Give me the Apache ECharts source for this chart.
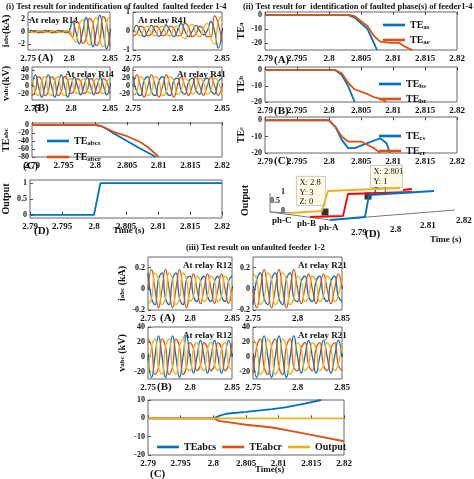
<!DOCTYPE html>
<html><head><meta charset="utf-8">
<script src="https://cdn.jsdelivr.net/npm/echarts@6/dist/echarts.min.js"></script>
<style>html,body{margin:0;padding:0;background:#fff}#c{width:474px;height:479px}</style>
</head><body><div id="c"></div>
<script>
// ---------- DATA ----------
// waveform time grid (quarter-cycle samples, 2.75..2.85)
const tW = [2.75,2.7542,2.7583,2.7625,2.7667,2.7708,2.775,2.7792,2.7833,2.7875,2.7917,2.7958,2.8,2.8042,2.8083,2.8125,2.8167,2.8208,2.825,2.8292,2.8333,2.8375,2.8417,2.8458,2.85];
// (i)A currents at R14 (kA)
const iR14a = [0,.2,0,-.2,0,.2,0,-.2,0,.2,0,-.2,0,1.6,0,-2,0,2.3,0,-2.5,0,2.7,0,-2.8,0];
const iR14b = [-.17,-.1,.17,.1,-.17,-.1,.17,.1,-.17,-.1,.17,.1,-.2,-.9,1.7,1.1,-1.9,-1.2,2.2,1.3,-2.3,-1.4,2.5,1.4,-2.5];
const iR14c = [.17,-.1,-.17,.1,.17,-.1,-.17,.1,.17,-.1,-.17,.1,.17,-.9,-1.7,1.1,1.9,-1.2,-2.2,1.3,2.3,-1.4,-2.5,1.4,2.6];
// (i)A currents at R41 (kA)
const iR41a = [0,.3,0,-.3,0,.3,0,-.3,0,.3,0,-.3,0,.4,0,-.3,0,.3,0,-.2,0,.5,0,-.9,0];
const iR41b = [-.26,-.15,.26,.15,-.26,-.15,.26,.15,-.26,-.15,.26,.15,-.26,-.2,.4,.2,-.3,-.15,.25,.1,-.3,-.3,.8,.4,-.6];
const iR41c = [.26,-.15,-.26,.15,.26,-.15,-.26,.15,.26,-.15,-.26,.15,.26,-.25,-.4,.2,.35,-.15,-.3,.15,.4,-.4,-.7,.5,.8];
// (i)B voltages (kV)
const vR14a = [0,28,0,-28,0,28,0,-28,0,28,0,-28,0,22,0,-22,0,22,0,-22,0,22,0,-22,0];
const vR14b = [-24,-14,24,14,-24,-14,24,14,-24,-14,24,14,-19,-11,19,11,-19,-11,19,11,-19,-11,19,11,-19];
const vR14c = [24,-14,-24,14,24,-14,-24,14,24,-14,-24,14,19,-11,-19,11,19,-11,-19,11,19,-11,-19,11,19];
const vR41a = [24,-14,-24,14,24,-14,-24,14,24,-14,-24,14,20,-11,-20,11,20,-11,-20,11,20,-11,-20,11,20];
const vR41b = [0,28,0,-28,0,28,0,-28,0,28,0,-28,0,23,0,-23,0,23,0,-23,0,23,0,-23,0];
const vR41c = [-24,-14,24,14,-24,-14,24,14,-24,-14,24,14,-20,-11,20,11,-20,-11,20,11,-20,-11,20,11,-20];
// (iii)A currents (kA)
const iR12a = [.15,-.09,-.15,.09,.15,-.09,-.15,.09,.15,-.09,-.15,.09,.12,-.07,-.12,.07,.12,-.07,-.12,.07,.12,-.07,-.12,.07,.12];
const iR12b = [0,.18,0,-.18,0,.18,0,-.18,0,.18,0,-.18,0,.14,0,-.14,0,.14,0,-.14,0,.14,0,-.14,0];
const iR12c = [-.15,-.09,.15,.09,-.15,-.09,.15,.09,-.15,-.09,.15,.09,-.12,-.07,.12,.07,-.12,-.07,.12,.07,-.12,-.07,.12,.07,-.12];
const iR21a = [-.15,.09,.15,-.09,-.15,.09,.15,-.09,-.15,.09,.15,-.09,-.12,.07,.12,-.07,-.12,.07,.12,-.07,-.12,.07,.12,-.07,-.12];
const iR21b = [0,-.18,0,.18,0,-.18,0,.18,0,-.18,0,.18,0,-.14,0,.14,0,-.14,0,.14,0,-.14,0,.14,0];
const iR21c = [.15,.09,-.15,-.09,.15,.09,-.15,-.09,.15,.09,-.15,-.09,.12,.07,-.12,-.07,.12,.07,-.12,-.07,.12,.07,-.12,-.07,.12];
// (iii)B voltages (kV)
const vR12a = [0,-28,0,28,0,-28,0,28,0,-28,0,28,0,-22,0,22,0,-22,0,22,0,-22,0,22,0];
const vR12b = [24,14,-24,-14,24,14,-24,-14,24,14,-24,-14,19,11,-19,-11,19,11,-19,-11,19,11,-19,-11,19];
const vR12c = [-24,14,24,-14,-24,14,24,-14,-24,14,24,-14,-19,11,19,-11,-19,11,19,-11,-19,11,19,-11,-19];
const vR21a = [0,-28,0,28,0,-28,0,28,0,-28,0,28,0,-22,0,22,0,-22,0,22,0,-22,0,22,0];
const vR21b = [-24,14,24,-14,-24,14,24,-14,-24,14,24,-14,-19,11,19,-11,-19,11,19,-11,-19,11,19,-11,-19];
const vR21c = [24,14,-24,-14,24,14,-24,-14,24,14,-24,-14,19,11,-19,-11,19,11,-19,-11,19,11,-19,-11,19];
// (i)C transient energy
const teAbcsT = [2.79,2.8,2.801,2.802,2.803,2.805,2.807,2.809,2.8095];
const teAbcsV = [0,0,-3,-12,-22,-40,-58,-75,-80];
const teAbcrT = [2.79,2.8,2.801,2.802,2.803,2.805,2.807,2.808,2.809,2.81];
const teAbcrV = [0,0,-3,-10,-18,-28,-42,-52,-65,-80];
// (i)D output
const outT = [2.79,2.8,2.801,2.82];
const outV = [0,0,1,1];
// (ii) phase energies
const teAsT=[2.79,2.803,2.804,2.806,2.807,2.8075], teAsV=[0,0,-2,-10,-20,-25];
const teArT=[2.79,2.803,2.804,2.806,2.807,2.808,2.8095,2.811,2.812,2.813], teArV=[0,0,-1,-8,-15,-19,-20,-20,-23,-25];
const teBsT=[2.79,2.801,2.802,2.803,2.804], teBsV=[0,0,-3,-10,-20];
const teBrT=[2.79,2.801,2.802,2.803,2.804,2.806,2.807,2.808,2.809], teBrV=[0,0,-2,-8,-12,-15,-17,-18,-20];
const teCsT=[2.79,2.8,2.801,2.802,2.803,2.804,2.806,2.808,2.809,2.8095], teCsV=[0,0,-4,-12,-17,-17,-14,-11,-14,-20];
const teCrT=[2.79,2.8,2.801,2.802,2.803,2.805,2.806,2.807,2.808], teCrV=[0,0,-4,-10,-13,-13,-15,-17,-20];
// (ii)D projected 3D output traces (projection units)
const phCx=[25,57,63,135], phCy=[27,29,49,52];
const phBx=[45,78,83,147], phBy=[23,24,46,48];
const phAx=[65,100,104,169], phAy=[20,23,45,49];
const phBtailx=[138,147], phBtaily=[50,51];
// (iii)C
const t3sT=[2.79,2.8,2.801,2.802,2.805,2.809,2.811,2.814,2.8165], t3sV=[0,0,1.5,2.5,3.5,5,6,8,10];
const t3rT=[2.79,2.8,2.801,2.803,2.805,2.809,2.812,2.815,2.82], t3rV=[0,0,-1.5,-2.5,-3.5,-5,-7,-9,-12.5];
const t3oT=[2.79,2.82], t3oV=[0,0];

// ---------- CHART ----------
const BLUE='#0072BD', RED='#D95319', YEL='#EDB120';
const FONT='Liberation Serif';
const zip=(x,y)=>x.map((v,i)=>[v,y[i]]);
const grids=[], xAxes=[], yAxes=[], series=[];
const fmtX=v=>String(+v.toFixed(3));
function addGrid(g, xr, yr, ylabels, yname, gap){
  const gi=grids.length;
  grids.push({left:g[0],top:g[1],width:g[2]-g[0],height:g[3]-g[1],show:true,borderColor:'#666',borderWidth:1,backgroundColor:'#fff'});
  xAxes.push({gridIndex:gi,type:'value',min:xr[0],max:xr[1],interval:xr[2],splitLine:{show:false},
    axisLine:{show:false},axisTick:{inside:true,length:3,lineStyle:{color:'#444'}},
    axisLabel:{fontFamily:FONT,fontWeight:'bold',fontSize:9,color:'#111',margin:4,formatter:fmtX,showMinLabel:true,showMaxLabel:true}});
  yAxes.push({gridIndex:gi,type:'value',min:yr[0],max:yr[1],splitLine:{show:false},axisLine:{show:false},
    axisTick:{inside:true,length:3,customValues:ylabels},
    axisLabel:{customValues:ylabels,fontFamily:FONT,fontWeight:'bold',fontSize:8,color:'#111',margin:3},
    name:yname||'',nameLocation:'middle',nameGap:gap||19,nameRotate:90,
    nameTextStyle:{fontFamily:FONT,fontWeight:'bold',fontSize:10,color:'#111',rich:{s:{fontSize:7,fontFamily:FONT,fontWeight:'bold'}}}});
  return gi;
}
function line(gi,data,color,name,w){series.push({type:'line',name:name,xAxisIndex:gi,yAxisIndex:gi,data:data,showSymbol:false,smooth:false,lineStyle:{color:color,width:w||1.5},itemStyle:{color:color},clip:true,animation:false});}
function wave(gi,a,b,c){ line(gi,zip(tW,a),BLUE,null,1.3); line(gi,zip(tW,b),RED,null,1.3); line(gi,zip(tW,c),YEL,null,1.3); series.slice(-3).forEach(s=>s.smooth=0.5);}

const wx=[2.75,2.85,0.05], cx=[2.79,2.82,0.005];
// (i)
let g;
g=addGrid([28,12,110,50],wx,[-3,3.2],[-2,0,2],'i{s|abc}(kA)',17); wave(g,iR14a,iR14b,iR14c);
g=addGrid([133,12,222,50],wx,[-1,1],[-1,0,1]); wave(g,iR41a,iR41b,iR41c);
g=addGrid([28,67,110,100],wx,[-35,48],[-20,0,20,40],'v{s|abc}(kV)',21); wave(g,vR14a,vR14b,vR14c);
g=addGrid([133,67,222,100],wx,[-35,48],[-20,0,20,40]); wave(g,vR41a,vR41b,vR41c);
g=addGrid([28,123,222,157],cx,[-80,5],[0,-20,-40,-60,-80],'TE{s|abc}',21);
line(g,zip(teAbcsT,teAbcsV),BLUE,'TEabcs',1.8); line(g,zip(teAbcrT,teAbcrV),RED,'TEabcr',1.8);
g=addGrid([28,180,222,218],cx,[-0.1,1.1],[0,0.5,1],'Output',19);
line(g,zip(outT,outV),BLUE,null,1.8);
// (ii)
g=addGrid([265,12,457,50],cx,[-25,2],[0,-10,-20],'TE{s|a}',19);
line(g,zip(teAsT,teAsV),BLUE,'TEas',1.8); line(g,zip(teArT,teArV),RED,'TEar',1.8);
g=addGrid([265,67,457,102],cx,[-20,2],[0,-10,-20],'TE{s|b}',19);
line(g,zip(teBsT,teBsV),BLUE,'TEbs',1.8); line(g,zip(teBrT,teBrV),RED,'TEbr',1.8);
g=addGrid([265,117,457,153],cx,[-20,2],[0,-10,-20],'TE{s|c}',19);
line(g,zip(teCsT,teCsV),BLUE,'TEcs',1.8); line(g,zip(teCrT,teCrV),RED,'TEcr',1.8);
// (ii)D pseudo-3D
let gi=grids.length;
grids.push({left:265,top:160,width:200,height:80});
xAxes.push({gridIndex:gi,type:'value',min:0,max:200,show:false});
yAxes.push({gridIndex:gi,type:'value',min:0,max:80,show:false});
const ax3=[[[5,47],[5,28]],[[5,28],[65,20]],[[65,20],[190,30]],[[5,28],[25,27]]];
ax3.forEach(d=>series.push({type:'line',xAxisIndex:gi,yAxisIndex:gi,data:d,showSymbol:false,lineStyle:{color:'#777',width:1},animation:false}));
line(gi,zip(phCx,phCy),YEL,null,1.8); line(gi,zip(phBx,phBy),'#FF0000',null,1.8); line(gi,zip(phAx,phAy),BLUE,null,1.8);
line(gi,zip(phBtailx,phBtaily),'#FF0000',null,1.8);
series.push({type:'scatter',xAxisIndex:gi,yAxisIndex:gi,data:[[60,28],[103,44]],symbol:'rect',symbolSize:7,itemStyle:{color:'#000'},animation:false});
// (iii)
g=addGrid([148,257,232,310],wx,[-0.2,0.3],[-0.2,0,0.2],'i{s|abc} (kA)',21); wave(g,iR12a,iR12b,iR12c);
g=addGrid([253,257,342,310],wx,[-0.2,0.3],[-0.2,0,0.2]); wave(g,iR21a,iR21b,iR21c);
g=addGrid([148,327,232,379],wx,[-30,40],[-20,0,20,40],'v{s|abc} (kV)',21); wave(g,vR12a,vR12b,vR12c);
g=addGrid([253,327,342,379],wx,[-30,40],[-20,0,20,40]); wave(g,vR21a,vR21b,vR21c);
g=addGrid([148,400,344,455],cx,[-20,10],[-20,-10,0,10]);
line(g,zip(t3sT,t3sV),BLUE,'TEabcs',1.8); line(g,zip(t3rT,t3rV),RED,'TEabcr',1.8); line(g,zip(t3oT,t3oV),YEL,'Output',1.8);

const leg=(names,fmt,pos,orient,gap)=>({data:names.map(n=>({name:n,icon:'path://M0,0H1V0.12H0Z'})),orient:orient||'horizontal',...pos,
  itemWidth:22,itemHeight:8,itemGap:gap||4,
  formatter:fmt,textStyle:{fontFamily:FONT,fontWeight:'bold',fontSize:10,color:'#111',
  rich:{s:{fontSize:7,fontFamily:FONT,fontWeight:'bold',padding:[5,0,0,0]}}}});
const sub=n=>'TE{s|'+n.slice(2)+'}';
const legends=[
  leg(['TEabcs','TEabcr'],sub,{left:42,top:131},'vertical',5),
  leg(['TEas','TEar'],sub,{left:378,top:15}),
  leg(['TEbs','TEbr'],sub,{left:374,top:74}),
  leg(['TEcs','TEcr'],sub,{left:374,top:126}),
  leg(['TEabcs','TEabcr','Output'],n=>n,{left:152,top:437},'horizontal',6)
];

const T=(x,y,text,o,rot)=>({type:'text',left:x,top:y,rotation:rot||0,style:Object.assign({text:text,fontFamily:FONT,fontWeight:'bold',fontSize:10,fill:'#111'},o||{})});
const tipBox=(x,y,w,h,lines)=>({type:'group',left:x,top:y,children:[
  {type:'rect',shape:{x:0,y:0,width:w,height:h},style:{fill:'#fffbe6',stroke:'#bbb',lineWidth:0.8}},
  {type:'text',left:3,top:2,style:{text:lines,fontFamily:FONT,fontSize:8.5,lineHeight:9.5,fill:'#111'}}]});
const graphic=[
  T(6,2,'(i) Test result for indentification of faulted  faulted feeder 1-4',{fontSize:8.5}),
  T(243,2,'(ii) Test result for  identification of faulted phase(s) of feeder1-4',{fontSize:8.5}),
  T(186,243,'(iii) Test result on unfaulted feeder 1-2',{fontSize:8.5}),
  T(29,16,'At relay R14',{fontSize:9}), T(138,16,'At relay R41',{fontSize:9}),
  T(65,70,'At relay R14',{fontSize:9}), T(177,70,'At relay R41',{fontSize:9}),
  T(183,261,'At relay R12',{fontSize:9}), T(298,261,'At relay R21',{fontSize:9}),
  T(183,331,'At relay R12',{fontSize:9}), T(298,331,'At relay R21',{fontSize:9}),
  T(38,53,'(A)',{fontSize:11}), T(34,103,'(B)',{fontSize:11}), T(23,161,'(C)',{fontSize:11}), T(34,226,'(D)',{fontSize:11}),
  T(113,226,'Time (s)',{fontSize:9}),
  T(274,55,'(A)',{fontSize:11}), T(274,106,'(B)',{fontSize:11}), T(274,156,'(C)',{fontSize:11}),
  T(365,229,'(D)',{fontSize:11}), T(430,235,'Time (s)',{fontSize:9}),
  T(160,313,'(A)',{fontSize:11}), T(157,382,'(B)',{fontSize:11}), T(150,469,'(C)',{fontSize:11}),
  T(255,465,'Time(s)',{fontSize:9}),
  T(272,216,'ph-C',{fontSize:9}), T(297,219,'ph-B',{fontSize:9}), T(319,223,'ph-A',{fontSize:9}),
  T(351,228,'2.79',{fontSize:9}), T(390,225,'2.8',{fontSize:9}), T(420,221,'2.81',{fontSize:9}), T(456,216,'2.82',{fontSize:9}),
  T(281,188,'1',{fontSize:8}), T(270,197,'0.5',{fontSize:8}), T(281,207,'0',{fontSize:8}),
  T(240,185,'Output',{fontSize:10},Math.PI/2),
  tipBox(296,176,29,29,'X: 2.8\nY: 3\nZ: 0'),
  tipBox(370,165,32,22,'X: 2.801\nY: 1\nZ: 1')
];
const chart=echarts.init(document.getElementById('c'),null,{renderer:'canvas'});
chart.setOption({animation:false,grid:grids,xAxis:xAxes,yAxis:yAxes,series:series,legend:legends,graphic:graphic});
</script></body></html>
